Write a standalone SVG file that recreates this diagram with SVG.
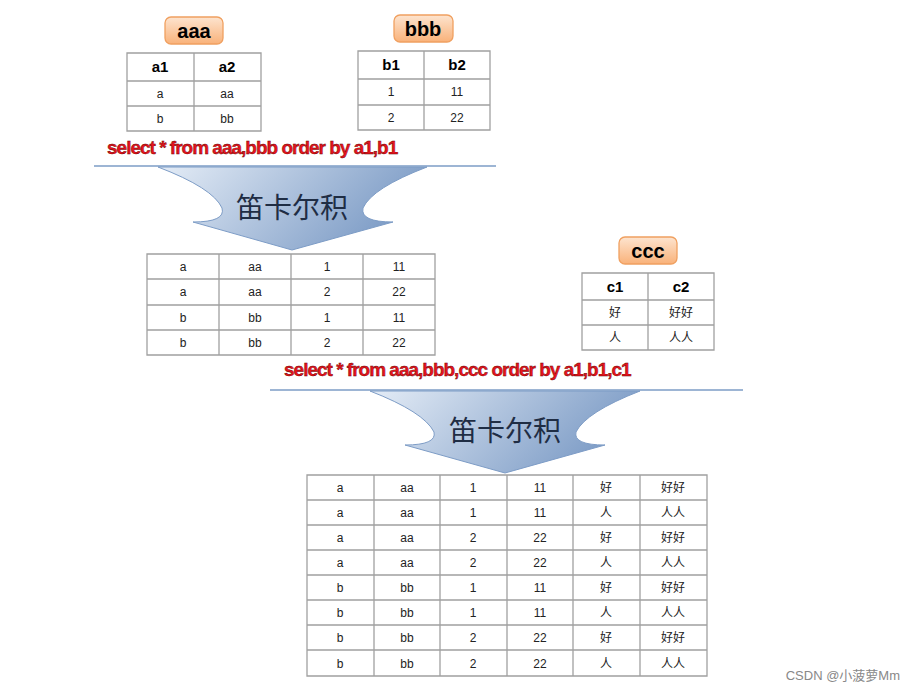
<svg xmlns="http://www.w3.org/2000/svg" width="914" height="692" viewBox="0 0 914 692">
<defs>
<linearGradient id="g" x1="0" y1="0" x2="1" y2="0.3">
<stop offset="0" stop-color="#e4ecf6"/><stop offset="1" stop-color="#7d9cc6"/>
</linearGradient>
<linearGradient id="lb" x1="0" y1="0" x2="0" y2="1">
<stop offset="0" stop-color="#fde4cf"/><stop offset="1" stop-color="#f9b27a"/>
</linearGradient>
</defs>
<style>
.t{fill:none;stroke:#a0a0a0;stroke-width:1.3}
.lab{fill:url(#lb);stroke:#f0a060;stroke-width:1.3}
.ln{font-family:"Liberation Sans",Arial,sans-serif;font-weight:bold;font-size:20px;fill:#000;text-anchor:middle}
.h{font-family:"Liberation Sans",Arial,sans-serif;font-weight:bold;font-size:15px;fill:#000;text-anchor:middle}
.c{font-family:"Liberation Sans","Noto Sans CJK SC",sans-serif;font-size:12px;fill:#222;text-anchor:middle}
.sql{font-family:"Liberation Sans",Arial,sans-serif;font-weight:bold;font-size:19px;fill:#e8141c;stroke:#600;stroke-width:0.4;letter-spacing:-1px}
.arr{fill:url(#g);stroke:#7d9cc6;stroke-width:1}
.ct{font-family:"Noto Sans CJK SC",serif;font-size:28px;fill:#1f2d44;text-anchor:middle}
.sep{stroke:#7d9cc6;stroke-width:1.5}
</style>
<g id="aaa">
<rect class="lab" x="165" y="17" width="58" height="27" rx="6"/>
<text class="ln" x="194" y="38">aaa</text>
<path class="t" d="M127,53H261V131H127Z M194,53V131 M127,81H261 M127,106H261"/>
<text class="h" x="160" y="72">a1</text><text class="h" x="227" y="72">a2</text>
<text class="c" x="160" y="98">a</text><text class="c" x="227" y="98">aa</text>
<text class="c" x="160" y="123">b</text><text class="c" x="227" y="123">bb</text>
</g>
<g id="bbb">
<rect class="lab" x="394" y="15" width="59" height="27" rx="6"/>
<text class="ln" x="423" y="36">bbb</text>
<path class="t" d="M358,51H490V130H358Z M424,51V130 M358,79H490 M358,105H490"/>
<text class="h" x="391" y="70">b1</text><text class="h" x="457" y="70">b2</text>
<text class="c" x="391" y="96">1</text><text class="c" x="457" y="96">11</text>
<text class="c" x="391" y="122">2</text><text class="c" x="457" y="122">22</text>
</g>
<text class="sql" x="107" y="154">select * from aaa,bbb order by a1,b1</text>
<g id="connectors">
<line class="sep" x1="94" y1="166" x2="496" y2="166"/>
<path class="arr" d="M158,167 L427,167 Q372,188 363,208 Q360,222 393,222 L292,250 L193,222 Q226,222 222,208 Q213,188 158,167 Z"/>
<line class="sep" x1="270" y1="390" x2="743" y2="390"/>
<path class="arr" d="M370,391 L640,391 Q586,412 576,432 Q573,445 605,445 L505,473 L405,445 Q437,445 434,432 Q424,412 370,391 Z"/>
</g>
<text class="ct" x="292" y="218">笛卡尔积</text>
<text class="ct" x="505" y="441">笛卡尔积</text>
<g id="ab">
<path class="t" d="M147,254H435V355H147Z M219,254V355 M291,254V355 M363,254V355 M147,279H435 M147,305H435 M147,330H435"/>
<g class="c">
<text x="183" y="271">a</text><text x="255" y="271">aa</text><text x="327" y="271">1</text><text x="399" y="271">11</text>
<text x="183" y="296">a</text><text x="255" y="296">aa</text><text x="327" y="296">2</text><text x="399" y="296">22</text>
<text x="183" y="322">b</text><text x="255" y="322">bb</text><text x="327" y="322">1</text><text x="399" y="322">11</text>
<text x="183" y="347">b</text><text x="255" y="347">bb</text><text x="327" y="347">2</text><text x="399" y="347">22</text>
</g>
</g>
<g id="ccc">
<rect class="lab" x="619" y="237" width="58" height="27" rx="6"/>
<text class="ln" x="648" y="258">ccc</text>
<path class="t" d="M582,273H714V350H582Z M648,273V350 M582,300H714 M582,325H714"/>
<text class="h" x="615" y="292">c1</text><text class="h" x="681" y="292">c2</text>
<text class="c" x="615" y="317">好</text><text class="c" x="681" y="317">好好</text>
<text class="c" x="615" y="342">人</text><text class="c" x="681" y="342">人人</text>
</g>
<text class="sql" x="284" y="376">select * from aaa,bbb,ccc order by a1,b1,c1</text>
<g id="abc">
<path class="t" d="M307,475H707V676H307Z M374,475V676 M440,475V676 M507,475V676 M573,475V676 M640,475V676 M307,500H707 M307,525H707 M307,550H707 M307,575H707 M307,600H707 M307,625H707 M307,650H707"/>
<g class="c">
<text x="340" y="492">a</text><text x="407" y="492">aa</text><text x="473" y="492">1</text><text x="540" y="492">11</text><text x="606" y="492">好</text><text x="673" y="492">好好</text>
<text x="340" y="517">a</text><text x="407" y="517">aa</text><text x="473" y="517">1</text><text x="540" y="517">11</text><text x="606" y="517">人</text><text x="673" y="517">人人</text>
<text x="340" y="542">a</text><text x="407" y="542">aa</text><text x="473" y="542">2</text><text x="540" y="542">22</text><text x="606" y="542">好</text><text x="673" y="542">好好</text>
<text x="340" y="567">a</text><text x="407" y="567">aa</text><text x="473" y="567">2</text><text x="540" y="567">22</text><text x="606" y="567">人</text><text x="673" y="567">人人</text>
<text x="340" y="592">b</text><text x="407" y="592">bb</text><text x="473" y="592">1</text><text x="540" y="592">11</text><text x="606" y="592">好</text><text x="673" y="592">好好</text>
<text x="340" y="617">b</text><text x="407" y="617">bb</text><text x="473" y="617">1</text><text x="540" y="617">11</text><text x="606" y="617">人</text><text x="673" y="617">人人</text>
<text x="340" y="642">b</text><text x="407" y="642">bb</text><text x="473" y="642">2</text><text x="540" y="642">22</text><text x="606" y="642">好</text><text x="673" y="642">好好</text>
<text x="340" y="668">b</text><text x="407" y="668">bb</text><text x="473" y="668">2</text><text x="540" y="668">22</text><text x="606" y="668">人</text><text x="673" y="668">人人</text>
</g>
</g>
<text x="900" y="680" text-anchor="end" font-family="'Liberation Sans','Noto Sans CJK SC',sans-serif" font-size="13" fill="#888">CSDN @小菠萝Mm</text>
</svg>
